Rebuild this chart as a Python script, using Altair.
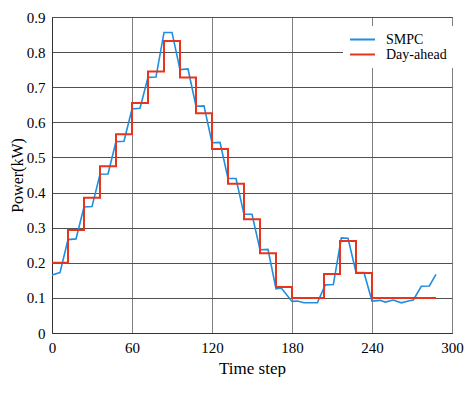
import altair as alt
import pandas as pd

# Day-ahead hourly schedule (one value per 12 time steps)
day_ahead_steps = [0, 12, 24, 36, 48, 60, 72, 84, 96, 108, 120, 132, 144, 156, 168, 180,
                   192, 204, 216, 228, 240, 252, 264, 276, 288]
day_ahead_vals = [0.200, 0.293, 0.385, 0.475, 0.566, 0.655, 0.745, 0.832, 0.728, 0.626,
                  0.524, 0.425, 0.324, 0.227, 0.131, 0.100, 0.100, 0.168, 0.262, 0.171,
                  0.100, 0.100, 0.100, 0.100, 0.100]

# SMPC trajectory vertices
smpc_steps = [0, 6, 12, 18, 24, 30, 36, 42, 48, 54, 60, 66, 72, 78, 84, 90, 96, 102,
              108, 114, 120, 126, 132, 138, 144, 150, 156, 162, 168, 172, 180, 184, 189,
              199, 205, 211, 217, 222, 228, 234, 240, 246, 250, 256, 262, 268, 271, 277,
              283, 288]
smpc_vals = [0.165, 0.172, 0.266, 0.268, 0.359, 0.360, 0.452, 0.453, 0.545, 0.546, 0.638,
             0.640, 0.728, 0.729, 0.856, 0.856, 0.750, 0.752, 0.646, 0.647, 0.542, 0.543,
             0.440, 0.440, 0.338, 0.338, 0.237, 0.238, 0.126, 0.128, 0.090, 0.091, 0.086,
             0.086, 0.137, 0.138, 0.271, 0.270, 0.173, 0.172, 0.091, 0.093, 0.088, 0.094,
             0.086, 0.092, 0.094, 0.133, 0.134, 0.167]

series_names = ["SMPC", "Day-ahead"]
series_colors = ["#1f8ee0", "#e8341c"]

df_smpc = pd.DataFrame({"t": smpc_steps, "p": smpc_vals, "series": "SMPC"})
df_da = pd.DataFrame({"t": day_ahead_steps, "p": day_ahead_vals, "series": "Day-ahead"})

FONT = "Liberation Serif"

x_enc = alt.X("t:Q", title="Time step",
              scale=alt.Scale(domain=[0, 300], nice=False, zero=False),
              axis=alt.Axis(values=[0, 60, 120, 180, 240, 300], gridColor="#808080",
                            gridWidth=1, ticks=False, labelPadding=7, titlePadding=5,
                            labelFlush=False, labelOverlap=False,
                            labelFont=FONT, titleFont=FONT, labelColor="black",
                            titleColor="black", titleFontWeight="normal",
                            labelFontSize=15, titleFontSize=17, domainColor="#333333"))
y_enc = alt.Y("p:Q", title="Power(kW)",
              scale=alt.Scale(domain=[0, 0.9], nice=False),
              axis=alt.Axis(values=[0, 0.1, 0.2, 0.3, 0.4, 0.5, 0.6, 0.7, 0.8, 0.9],
                            format=".1~f", gridColor="#505050", gridWidth=1, ticks=False,
                            labelPadding=7, titlePadding=1,
                            labelFlush=False, labelOverlap=False,
                            labelFont=FONT, titleFont=FONT, labelColor="black",
                            titleColor="black", titleFontWeight="normal",
                            labelFontSize=15, titleFontSize=16, domainColor="#333333"))
color_enc = alt.Color("series:N",
                      scale=alt.Scale(domain=series_names, range=series_colors),
                      legend=alt.Legend(title=None, orient="none", legendX=291, legendY=9,
                                        fillColor="white", padding=6, symbolType="stroke",
                                        symbolSize=625, symbolStrokeWidth=2, clipHeight=15,
                                        labelFont=FONT, labelFontSize=14, labelColor="black",
                                        rowPadding=0, labelOffset=10, symbolOffset=0))

smpc = alt.Chart(df_smpc).mark_line(strokeWidth=1.6).encode(x=x_enc, y=y_enc, color=color_enc)
da = alt.Chart(df_da).mark_line(strokeWidth=2, interpolate="step-after").encode(
    x=x_enc, y=y_enc, color=color_enc)

chart = alt.layer(smpc, da).properties(
    width=400, height=316,
    autosize=alt.AutoSizeParams(type="none"),
    padding={"left": 44, "top": 9, "right": 14, "bottom": 44},
).configure(background="white").configure_view(stroke="#333333", strokeWidth=1)

chart.save("out.html", embed_options={"renderer": "svg", "actions": False})
